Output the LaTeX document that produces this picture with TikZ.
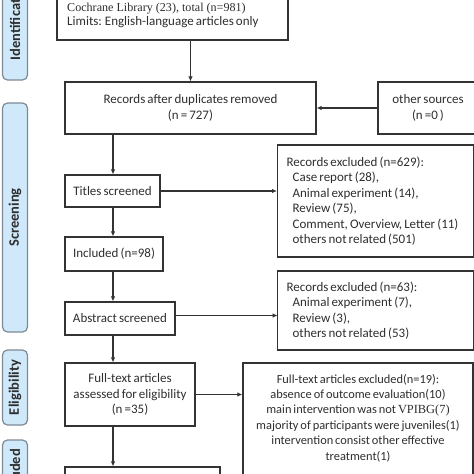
\documentclass[tikz,border=0pt]{standalone}
\usepackage{fontspec}
\setmainfont{Carlito}[WordSpace=0.7]
\newfontfamily\serifx{Liberation Serif}
\usetikzlibrary{arrows.meta}
\newcommand\wsp{\spaceskip=0.16em plus 0.03em minus 0.02em\xspaceskip=0.2em\relax}
\definecolor{ln}{HTML}{333333}
\definecolor{tx}{HTML}{2E2E2E}
\definecolor{lab}{HTML}{CFE9FA}
\definecolor{labb}{HTML}{7D8A96}
\tikzset{
  box/.style={draw=ln, line width=1.2pt, inner sep=0pt, text=tx, font=\fontsize{13}{15.5}\selectfont, align=center},
  lbox/.style={box, align=left, anchor=west, inner xsep=9pt},
  stage/.style={draw=labb, fill=lab, line width=1.2pt, rounded corners=5pt, rotate=90, minimum height=25pt, inner sep=0pt, text=tx, font=\fontsize{14.5}{16}\selectfont\bfseries},
  arr/.style={draw=ln, line width=1.2pt, -{Latex[length=5pt,width=4.5pt]}}
}
\begin{document}
\begin{tikzpicture}[x=1pt,y=-1pt]
\useasboundingbox (0,0) rectangle (474,474);
\clip (0,0) rectangle (474,474);
% stage labels
\node[stage, minimum width=120pt] (sid) at (15,20) {Identification};
\node[stage, minimum width=229pt] (ssc) at (15,217.5) {Screening};
\node[stage, minimum width=75pt] (sel) at (15,387.5) {Eligibility};
\node[stage, minimum width=70pt] (sin) at (15,475) {Included};
% boxes
\node[box, minimum width=231pt, minimum height=80pt] (top) at (172.5,0) {};
\node[anchor=base west, inner sep=0pt, text=tx, font=\serifx\fontsize{12.1}{13}\selectfont] (t1) at (67,11) {Cochrane Library (23), total (n=981)};
\node[anchor=base west, inner sep=0pt, text=tx, font=\fontsize{13}{14}\selectfont] (t2) at (67,25.5) {Limits: English-language articles only};
\node[box, minimum width=251pt, minimum height=52pt] (rec) at (190.5,108) {\wsp Records after duplicates removed\\(n = 727)};
\node[box, minimum width=100pt, minimum height=52pt] (oth) at (428,108) {\wsp other sources\\(n =0 )};
\node[box, minimum width=95pt, minimum height=32pt] (tit) at (112.5,191) {\wsp Titles screened};
\node[box, minimum width=98pt, minimum height=34pt] (inc) at (114,254) {\wsp Included (n=98)};
\node[box, minimum width=110pt, minimum height=33pt] (abs) at (120,318.5) {\wsp Abstract screened};
\node[box, minimum width=130pt, minimum height=63pt] (ful) at (130,394.5) {\wsp Full-text articles\\assessed for eligibility\\(n =35)};
\node[box, minimum width=155pt, minimum height=40pt] (fin) at (142.5,487) {};
\node[lbox, text width=178pt, minimum height=112pt] (ex1) at (277,201) {\wsp Records excluded (n=629):\\\hspace*{6pt}Case report (28),\\\hspace*{6pt}Animal experiment (14),\\\hspace*{6pt}Review (75),\\\hspace*{6pt}Comment, Overview, Letter (11)\\\hspace*{6pt}others not related (501)};
\node[lbox, text width=178pt, minimum height=79pt] (ex2) at (277,310.5) {\wsp Records excluded (n=63):\\\hspace*{6pt}Animal experiment (7),\\\hspace*{6pt}Review (3),\\\hspace*{6pt}others not related (53)};
\node[box, minimum width=230pt, minimum height=124pt] (ex3) at (358,425) {};
\node[box, draw=none, anchor=north, font=\fontsize{12.4}{15.4}\selectfont] (ex3t) at (358,373.5) {\wsp Full-text articles excluded(n=19):\\absence of outcome evaluation(10)\\main intervention was not {\serifx VPIBG(7)}\\majority of participants were juveniles(1)\\intervention consist other effective\\treatment(1)};
% connectors
\coordinate (sp) at (113,0);
\draw[arr] (rec.north |- top.south) -- (rec.north);
\draw[arr] (oth.west) -- (rec.east);
\draw[arr] (rec.south -| sp) -- (tit.north -| sp);
\draw[arr] (tit.east) -- (tit.east -| ex1.west);
\draw[arr] (tit.south -| sp) -- (inc.north -| sp);
\draw[arr] (inc.south -| sp) -- (abs.north -| sp);
\draw[arr] (abs.east) ++(0,-3) -- ++(102,0) coordinate (a2);
\draw[arr] (abs.south -| sp) -- (ful.north -| sp);
\draw[arr] (ful.east) -- (ful.east -| ex3.west);
\draw[arr] (ful.south -| sp) -- (fin.north -| sp);
\end{tikzpicture}
\end{document}
